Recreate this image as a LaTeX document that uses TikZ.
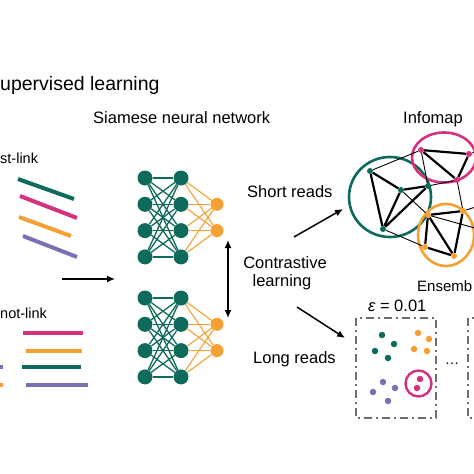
\documentclass[tikz,border=0pt]{standalone}
\usepackage{fontspec}
\setmainfont{Liberation Sans}
\usetikzlibrary{arrows.meta}

\definecolor{tealc}{HTML}{0E6B5C}
\definecolor{pinkc}{HTML}{D4317E}
\definecolor{orangec}{HTML}{F5A033}
\definecolor{purplec}{HTML}{7C70B3}
\definecolor{boxgray}{HTML}{6E6E6E}

\tikzset{
  lbl/.style={font=\fontsize{16.5}{19}\selectfont,inner sep=0pt},
  smlbl/.style={font=\fontsize{14.5}{17}\selectfont,inner sep=0pt},
  tn/.style={circle,fill=tealc,minimum size=15pt,inner sep=0pt},
  outn/.style={circle,fill=orangec,minimum size=13pt,inner sep=0pt},
  gdot/.style={circle,fill=#1,minimum size=6pt,inner sep=0pt},
  edot/.style={circle,fill=#1,minimum size=6.5pt,inner sep=0pt},
  pair/.style={line width=4pt,draw=#1},
  arr/.style={line width=1.5pt,-{Latex[length=8pt,width=7pt]}},
  darr/.style={line width=1.5pt,{Latex[length=8pt,width=7pt]}-{Latex[length=8pt,width=7pt]}},
  strong/.style={line width=2.2pt},
  weak/.style={line width=0.9pt},
  ensbox/.style={draw=boxgray,line width=2.6pt,dash pattern=on 8pt off 4pt on 2pt off 4pt}
}

\begin{document}
\begin{tikzpicture}[x=1pt,y=-1pt]
\useasboundingbox (0,0) rectangle (474,474);
\clip (0,0) rectangle (474,474);

% titles
\node[lbl,font=\fontsize{19.5}{22}\selectfont,anchor=base west] (title) at (0,90) {upervised learning};
\node[lbl,anchor=base west] (siam) at (93,123) {Siamese neural network};
\node[lbl,anchor=base west] (infomap) at (403,123) {Infomap};
\node[lbl,font=\fontsize{15}{18}\selectfont,anchor=base west] (ensemb) at (417,291) {Ensemb};

% must-link pairs
\node[smlbl,anchor=base west] (must) at (0,163) {st-link};
\draw[pair=tealc] (18,179) -- (74,199);
\draw[pair=pinkc] (20,196) -- (77,218);
\draw[pair=orangec] (19,217) -- (71,236);
\draw[pair=purplec] (23,236) -- (77,257);

% cannot-link pairs
\node[smlbl,anchor=base west] (cannot) at (0,318) {not-link};
\draw[pair=pinkc] (23,333) -- (83,333);
\draw[pair=orangec] (26,351) -- (82,351);
\draw[pair=tealc] (22,367) -- (81,367);
\draw[pair=purplec] (26,385) -- (88,385);
\draw[pair=purplec] (-5,367) -- (3,367);
\draw[pair=orangec] (-5,385) -- (3,385);

\coordinate (feed-s) at (62,279);
\coordinate (feed-e) at (115,279);
\draw[arr] (feed-s) -- (feed-e);

% the two siamese nets
\foreach \k/\off in {a/0,b/120}{
  \foreach \i in {1,...,4}{
    \node[tn] (\k-in\i) at (145,{178+\off+26.3*(\i-1)}) {};
    \node[tn] (\k-hd\i) at (181,{178+\off+26.3*(\i-1)}) {};
  }
  \foreach \j in {1,2}
    \node[outn] (\k-out\j) at (217,{204.3+\off+26.3*(\j-1)}) {};
  \foreach \i in {1,...,4}{
    \foreach \m in {1,...,4}
      \draw[tealc,line width=1.3pt] (\k-in\i) -- (\k-hd\m);
    \foreach \j in {1,2}
      \draw[orangec,line width=1.1pt] (\k-hd\i) -- (\k-out\j);
  }
}

\coordinate (cl-top) at (228,240);
\coordinate (cl-bot) at (228,318);
\draw[darr] (cl-top) -- (cl-bot);

\node[lbl,anchor=base] (contr) at (285,268) {Contrastive};
\node[lbl,anchor=base] (learn) at (282,286) {learning};
\node[lbl,anchor=base west] (short) at (247,197) {Short reads};
\node[lbl,anchor=base west] (long) at (253,363) {Long reads};

\coordinate (sr-s) at (294,237);
\coordinate (sr-e) at (343,209);
\draw[arr] (sr-s) -- (sr-e);
\coordinate (lr-s) at (297,307);
\coordinate (lr-e) at (345,338);
\draw[arr] (lr-s) -- (lr-e);

% infomap graph
\draw[tealc,line width=2.6pt] (390,197) ellipse [x radius=41pt,y radius=40pt];
\draw[pinkc,line width=2.6pt] (444,157.5) ellipse [x radius=32pt,y radius=25pt];
\draw[orangec,line width=2.6pt] (446,235) ellipse [x radius=28pt,y radius=31pt];

\node[gdot=tealc] (t1) at (370,171) {};
\node[gdot=tealc] (t2) at (401,190) {};
\node[gdot=tealc] (t3) at (428,186) {};
\node[gdot=tealc] (t4) at (383,229) {};
\node[gdot=pinkc] (p1) at (421,150) {};
\node[gdot=pinkc] (p2) at (469,154) {};
\node[gdot=pinkc] (p3) at (457,180) {};
\node[gdot=orangec] (o1) at (428,215) {};
\node[gdot=orangec] (o2) at (463,211) {};
\node[gdot=orangec] (o3) at (425,247) {};
\node[gdot=orangec] (o4) at (454,256) {};
\coordinate (p2-out) at (482,150);
\coordinate (o1-out) at (482,230);
\coordinate (o2-out) at (482,205);

\draw[strong] (t1) -- (t2);
\draw[strong] (t1) -- (t4);
\draw[strong] (t2) -- (t3);
\draw[strong] (t2) -- (t4);
\draw[strong] (t4) -- (t3);
\draw[strong] (p1) -- (p2);
\draw[strong] (p1) -- (p3);
\draw[strong] (p2) -- (p3);
\draw[strong] (o1) -- (o2);
\draw[strong] (o1) -- (o3);
\draw[strong] (o1) -- (o4);
\draw[strong] (o3) -- (o4);
\draw[strong] (o2) -- (o4);

\draw[weak] (t1) -- (p1);
\draw[weak] (t3) -- (p1);
\draw[weak] (t3) -- (p3);
\draw[weak] (t2) -- (o1);
\draw[weak] (t4) -- (o3);
\draw[weak] (p3) -- (o2);
\draw[weak] (p2) -- (p2-out);
\draw[weak] (o1) -- (o1-out);
\draw[weak] (o2) -- (o2-out);

% ensemble clustering
\node[lbl,anchor=base west] (eps) at (368,311) {{\itshape ε} = 0.01};
\draw[ensbox] (356,318) rectangle (436,418);
\draw[ensbox] (468,318) rectangle (530,418);
\node[smlbl] (more) at (452,364) {…};

\foreach \n/\x/\y in {1/382/335,2/394/344,3/375/351,4/388/358}
  \node[edot=tealc] (et\n) at (\x,\y) {};
\foreach \n/\x/\y in {1/418/333,2/429/339,3/414/349,4/427/351}
  \node[edot=orangec] (eo\n) at (\x,\y) {};
\foreach \n/\x/\y in {1/383/382,2/373/392,3/395/388,4/388/401}
  \node[edot=purplec] (ev\n) at (\x,\y) {};
\node[edot=pinkc] (ep1) at (420,379) {};
\node[edot=pinkc] (ep2) at (417,388) {};
\draw[pinkc,line width=2.4pt] (418.5,383.5) circle [radius=13pt];
\end{tikzpicture}
\end{document}
